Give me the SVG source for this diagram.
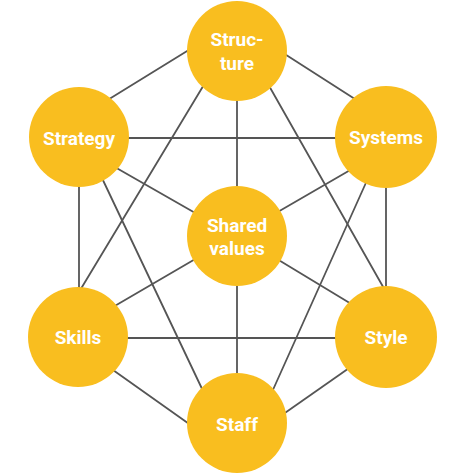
<svg xmlns="http://www.w3.org/2000/svg" width="474" height="474" viewBox="0 0 474 474">
<style>
.bg{fill:#ffffff}
.edge{stroke:#555555;stroke-width:1.8;fill:none;stroke-linecap:round}
.node circle{fill:#F9BE1F}
.node text{fill:#ffffff;font-family:Roboto,"Liberation Sans",sans-serif;font-weight:700;font-size:19px;text-anchor:middle}
</style>
<rect class="bg" width="474" height="474"/>
<g id="connectors">
<line class="edge" x1="106" y1="101" x2="192" y2="48"/>
<line class="edge" x1="280" y1="51" x2="358" y2="101"/>
<line class="edge" x1="237" y1="95" x2="237" y2="190"/>
<line class="edge" x1="205" y1="83" x2="79" y2="292"/>
<line class="edge" x1="268" y1="84" x2="386" y2="292"/>
<line class="edge" x1="125" y1="138" x2="340" y2="138"/>
<line class="edge" x1="79" y1="183" x2="79" y2="292"/>
<line class="edge" x1="113" y1="166" x2="197" y2="214"/>
<line class="edge" x1="101" y1="176" x2="204" y2="393"/>
<line class="edge" x1="352" y1="169" x2="276" y2="213"/>
<line class="edge" x1="369" y1="176" x2="272" y2="392"/>
<line class="edge" x1="386" y1="183" x2="386" y2="292"/>
<line class="edge" x1="113" y1="307" x2="197" y2="258"/>
<line class="edge" x1="125" y1="338" x2="340" y2="338"/>
<line class="edge" x1="113" y1="370" x2="192" y2="426"/>
<line class="edge" x1="352" y1="366" x2="282" y2="415"/>
<line class="edge" x1="277" y1="259" x2="353" y2="305"/>
<line class="edge" x1="237" y1="280" x2="237" y2="378"/>
</g>
<g id="structure" class="node">
<circle cx="237" cy="51" r="50"/>
<text x="237" y="46">Struc-</text>
<text x="237" y="70">ture</text>
</g>
<g id="strategy" class="node">
<circle cx="79" cy="137" r="50"/>
<text x="79" y="145">Strategy</text>
</g>
<g id="systems" class="node">
<circle cx="386" cy="137" r="51"/>
<text x="386" y="144">Systems</text>
</g>
<g id="shared-values" class="node">
<circle cx="237" cy="236" r="50"/>
<text x="237" y="232">Shared</text>
<text x="237" y="255">values</text>
</g>
<g id="skills" class="node">
<circle cx="78" cy="337" r="50"/>
<text x="78" y="344">Skills</text>
</g>
<g id="style" class="node">
<circle cx="386" cy="337" r="51"/>
<text x="386" y="344">Style</text>
</g>
<g id="staff" class="node">
<circle cx="237" cy="423" r="50"/>
<text x="237" y="431">Staff</text>
</g>
</svg>
